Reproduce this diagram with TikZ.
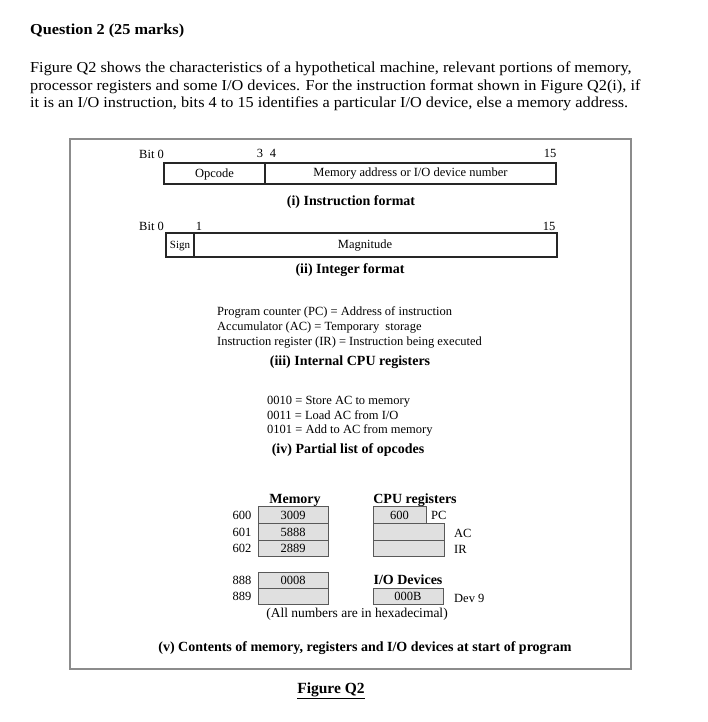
\documentclass[tikz,border=0pt]{standalone}
\usepackage{fontspec}
\setmainfont{Liberation Serif}
\newfontfamily\qfont[FakeStretch=1.07]{Liberation Serif}
\tikzset{
  txt/.style={inner sep=0pt, anchor=base west, font=\qfont\fontsize{15.2}{18}\selectfont},
  dtxt/.style={inner sep=0pt, font=\fontsize{12.5}{14}\selectfont},
  dhead/.style={inner sep=0pt, font=\fontsize{14}{16}\selectfont\bfseries},
  fieldbox/.style={draw=black!85, line width=1.1pt},
  cell/.style={draw=black!65, fill=black!12, line width=0.8pt},
  frame/.style={draw=black!45, line width=1.6pt}
}
\begin{document}
\begin{tikzpicture}[x=1pt,y=-1pt]
\useasboundingbox (0,0) rectangle (707,722);
% question text
\node[txt, font=\qfont\fontsize{15.2}{18}\selectfont\bfseries] (q) at (30,35) {Question 2 (25 marks)};
\node[txt] (p1) at (30,73) {Figure Q2 shows the characteristics of a hypothetical machine, relevant portions of memory,};
\node[txt] (p2) at (30,91) {processor registers and some I/O devices. For the instruction format shown in Figure Q2(i), if};
\node[txt] (p3) at (30,108) {it is an I/O instruction, bits 4 to 15 identifies a particular I/O device, else a memory address.};
% frame
\draw[frame] (70,139) rectangle (631,669);
% (i) instruction format
\node[dtxt, anchor=base west] (bit0a) at (139,159) {Bit 0};
\node[dtxt, anchor=base] (b3) at (260,158) {3};
\node[dtxt, anchor=base] (b4) at (273,158) {4};
\node[dtxt, anchor=base] (b15a) at (550,158) {15};
\draw[fieldbox] (164,163) rectangle (556,184);
\draw[fieldbox] (265,163) -- (265,184);
\node[dtxt] (opc) at (214.5,174) {Opcode};
\node[dtxt] (maddr) at (410.5,174) {Memory address or I/O device number};
\node[dhead] (cap1) at (351,202) {(i) Instruction format};
% (ii) integer format
\node[dtxt, anchor=base west] (bit0b) at (139,230) {Bit 0};
\node[dtxt, anchor=base] (b1) at (199,230) {1};
\node[dtxt, anchor=base] (b15b) at (549,230) {15};
\draw[fieldbox] (166,233) rectangle (557,257);
\draw[fieldbox] (194,233) -- (194,257);
\node[dtxt, font=\fontsize{11}{13}\selectfont] (sign) at (180,246) {Sign};
\node[dtxt] (mag) at (365,246) {Magnitude};
\node[dhead] (cap2) at (350,270) {(ii) Integer format};
% (iii) registers
\node[dtxt, anchor=base west] (r1) at (217,315) {Program counter (PC) = Address of instruction};
\node[dtxt, anchor=base west] (r2) at (217,330) {Accumulator (AC) = Temporary\ \ storage};
\node[dtxt, anchor=base west] (r3) at (217,345) {Instruction register (IR) = Instruction being executed};
\node[dhead] (cap3) at (350,362) {(iii) Internal CPU registers};
% (iv) opcodes
\node[dtxt, anchor=base west] (o1) at (267,404) {0010 = Store AC to memory};
\node[dtxt, anchor=base west] (o2) at (267,419) {0011 = Load AC from I/O};
\node[dtxt, anchor=base west] (o3) at (267,433) {0101 = Add to AC from memory};
\node[dhead] (cap4) at (348,450) {(iv) Partial list of opcodes};
% (v) memory
\node[dhead] (memh) at (295,500) {Memory};
\draw[cell] (258,506) rectangle (328,523);
\draw[cell] (258,523) rectangle (328,540);
\draw[cell] (258,540) rectangle (328,556);
\node[dtxt] (m600v) at (293,515) {3009};
\node[dtxt] (m601v) at (293,532) {5888};
\node[dtxt] (m602v) at (293,548.5) {2889};
\node[dtxt] (a600) at (242,515) {600};
\node[dtxt] (a601) at (242,532) {601};
\node[dtxt] (a602) at (242,548.5) {602};
\draw[cell] (258,572) rectangle (328,588);
\draw[cell] (258,588) rectangle (328,604);
\node[dtxt] (m888v) at (293,580.5) {0008};
\node[dtxt] (a888) at (242,580.5) {888};
\node[dtxt] (a889) at (242,596.5) {889};
% CPU registers
\node[dhead] (cpuh) at (415,500) {CPU registers};
\draw[cell] (373,506) rectangle (426,523);
\node[dtxt] (pcv) at (399.5,515) {600};
\node[dtxt, anchor=west] (pcl) at (431,515) {PC};
\draw[cell] (373,523) rectangle (444,540);
\draw[cell] (373,540) rectangle (444,556);
\node[dtxt, anchor=west] (acl) at (454,533) {AC};
\node[dtxt, anchor=west] (irl) at (454,549) {IR};
% I/O devices
\node[dhead] (ioh) at (408,580) {I/O Devices};
\draw[cell] (373,588) rectangle (443,604);
\node[dtxt] (iov) at (408,596.5) {000B};
\node[dtxt, anchor=west] (dev) at (454,598) {Dev 9};
\node[dtxt, font=\fontsize{13.5}{15}\selectfont] (hex) at (357,614) {(All numbers are in hexadecimal)};
\node[dhead] (cap5) at (365,648) {(v) Contents of memory, registers and I/O devices at start of program};
% figure caption
\node[inner sep=0pt, font=\fontsize{15.5}{18}\selectfont\bfseries] (fig) at (331,691) {\underline{Figure Q2}};
\end{tikzpicture}
\end{document}
